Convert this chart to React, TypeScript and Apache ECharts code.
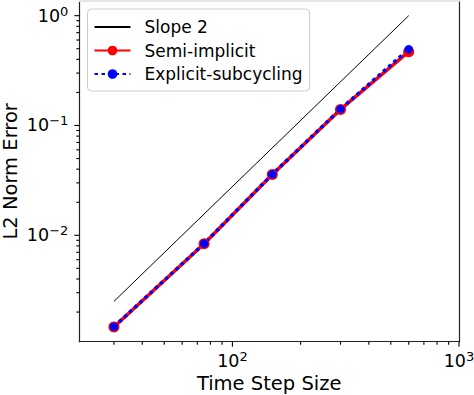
import React, { useEffect, useRef } from "react";
import * as echarts from "echarts";

// ---- data ----
const timeStep = [30, 75, 150, 300, 600];
const semiImplicit = [0.00146, 0.00839, 0.0358, 0.14, 0.47];
const explicitSubcycling = [0.00147, 0.0084, 0.0359, 0.141, 0.494];
const slopeX = [30, 600];
const slopeY = [0.0025, 1.0];

const X_MIN = 21.1;
const X_MAX = 1000;
const Y_MIN = 0.001074;
const Y_MAX = 1.36;

const xMajorTicks = [100, 1000];
const yMajorTicks = [0.01, 0.1, 1];
const minorMultipliers = [2, 3, 4, 5, 6, 7, 8, 9];
const xDecades = [10, 100];
const yDecades = [0.001, 0.01, 0.1];

const FONT = "DejaVu Sans";

function pow10Label(v: number): string {
  const e = Math.log10(v);
  const r = Math.round(e);
  if (Math.abs(e - r) > 1e-6) return "";
  const exp = r < 0 ? "\u2212" + String(-r) : String(r);
  return `{b|10}{s|${exp}}`;
}

const richLabel = {
  b: { fontSize: 17.5, lineHeight: 18, fontFamily: FONT, color: "#000" },
  s: { fontSize: 13, lineHeight: 13, fontFamily: FONT, color: "#000", padding: [0, 0, 9, 0] },
};

export default function App() {
  const ref = useRef<HTMLDivElement>(null);
  useEffect(() => {
    if (!ref.current) return;
    const chart = echarts.init(ref.current, undefined, { renderer: "svg" });

    const xMinor: number[] = [];
    xDecades.forEach((d) => minorMultipliers.forEach((m) => {
      const v = d * m;
      if (v > X_MIN && v < X_MAX) xMinor.push(v);
    }));
    const yMinor: number[] = [];
    yDecades.forEach((d) => minorMultipliers.forEach((m) => {
      const v = d * m;
      if (v > Y_MIN && v < Y_MAX) yMinor.push(v);
    }));

    const xTickData = [
      ...xMajorTicks.map((v) => [v, Y_MIN, 5]),
      ...xMinor.map((v) => [v, Y_MIN, 3]),
    ];
    const yTickData = [
      ...yMajorTicks.map((v) => [X_MIN, v, 5]),
      ...yMinor.map((v) => [X_MIN, v, 3]),
    ];

    const tickStyle = { stroke: "#000", lineWidth: 1.1 };

    chart.setOption({
      animation: false,
      textStyle: { fontFamily: FONT },
      grid: {
        left: 79.3,
        right: 15,
        top: 1,
        bottom: 53.3,
        containLabel: false,
        outerBoundsMode: "none",
      },
      xAxis: [
        {
          type: "log",
          min: X_MIN,
          max: X_MAX,
          position: "bottom",
          name: "Time Step Size",
          nameLocation: "middle",
          nameGap: 32,
          nameMoveOverlap: false,
          nameTextStyle: { fontSize: 19.5, lineHeight: 20, fontFamily: FONT, color: "#000" },
          axisLine: { onZero: false, lineStyle: { color: "#222", width: 1.2 } },
          axisTick: { show: false },
          splitLine: { show: false },
          minorTick: { show: false },
          axisLabel: {
            formatter: pow10Label,
            rich: richLabel,
            margin: 10,
            showMinLabel: false,
          },
        },
        {
          type: "log",
          min: X_MIN,
          max: X_MAX,
          position: "top",
          axisLine: { onZero: false, lineStyle: { color: "#e6e6e6", width: 2 } },
          axisTick: { show: false },
          axisLabel: { show: false },
          splitLine: { show: false },
        },
      ],
      yAxis: [
        {
          type: "log",
          min: Y_MIN,
          max: Y_MAX,
          position: "left",
          name: "L2 Norm Error",
          nameLocation: "middle",
          nameGap: 59,
          nameMoveOverlap: false,
          nameTextStyle: { fontSize: 19.5, lineHeight: 20, fontFamily: FONT, color: "#000" },
          axisLine: { onZero: false, lineStyle: { color: "#222", width: 1.2 } },
          axisTick: { show: false },
          splitLine: { show: false },
          minorTick: { show: false },
          axisLabel: {
            formatter: pow10Label,
            rich: richLabel,
            margin: 11,
            showMinLabel: false,
            showMaxLabel: false,
          },
        },
        {
          type: "log",
          min: Y_MIN,
          max: Y_MAX,
          position: "right",
          axisLine: { onZero: false, lineStyle: { color: "#222", width: 1.2 } },
          axisTick: { show: false },
          axisLabel: { show: false },
          splitLine: { show: false },
        },
      ],
      legend: {
        left: 87.5,
        top: 9,
        orient: "vertical",
        data: [
          { name: "Slope 2", itemStyle: { opacity: 0 } },
          { name: "Semi-implicit" },
          { name: "Explicit-subcycling" },
        ],
        itemWidth: 36,
        itemHeight: 12,
        itemGap: 3.5,
        padding: [8, 7, 7, 6],
        borderColor: "#cccccc",
        borderWidth: 1,
        borderRadius: 4,
        backgroundColor: "rgba(255,255,255,0.8)",
        textStyle: {
          fontSize: 17,
          fontFamily: FONT,
          color: "#000",
          lineHeight: 20,
          padding: [0, 0, 0, 9],
        },
      },
      series: [
        {
          type: "custom",
          name: "xticks",
          xAxisIndex: 0,
          yAxisIndex: 0,
          silent: true,
          clip: false,
          data: xTickData,
          renderItem: (params: any, api: any) => {
            const p = api.coord([api.value(0), api.value(1)]);
            const len = api.value(2);
            return {
              type: "line",
              shape: { x1: p[0], y1: p[1], x2: p[0], y2: p[1] + len },
              style: tickStyle,
            };
          },
        },
        {
          type: "custom",
          name: "yticks",
          xAxisIndex: 0,
          yAxisIndex: 0,
          silent: true,
          clip: false,
          data: yTickData,
          renderItem: (params: any, api: any) => {
            const p = api.coord([api.value(0), api.value(1)]);
            const len = api.value(2);
            return {
              type: "line",
              shape: { x1: p[0] - len, y1: p[1], x2: p[0], y2: p[1] },
              style: tickStyle,
            };
          },
        },
        {
          type: "line",
          name: "Slope 2",
          data: slopeX.map((x, i) => [x, slopeY[i]]),
          showSymbol: false,
          symbol: "none",
          lineStyle: { color: "#000", width: 1 },
          itemStyle: { color: "#000" },
        },
        {
          type: "line",
          name: "Semi-implicit",
          data: timeStep.map((x, i) => [x, semiImplicit[i]]),
          symbol: "circle",
          symbolSize: 11,
          lineStyle: { color: "#ff0000", width: 3.5 },
          itemStyle: { color: "#ff0000" },
        },
        {
          type: "line",
          name: "Explicit-subcycling",
          data: timeStep.map((x, i) => [x, explicitSubcycling[i]]),
          symbol: "circle",
          symbolSize: 8.5,
          lineStyle: { color: "#0000ff", width: 3.5, type: [3.5, 3.5] },
          itemStyle: { color: "#0000ff" },
        },
      ],
    });
    return () => chart.dispose();
  }, []);
  return (
    <div
      ref={ref}
      style={{ position: "fixed", left: 0, top: 0, width: 474, height: 395, background: "#fff" }}
    />
  );
}
